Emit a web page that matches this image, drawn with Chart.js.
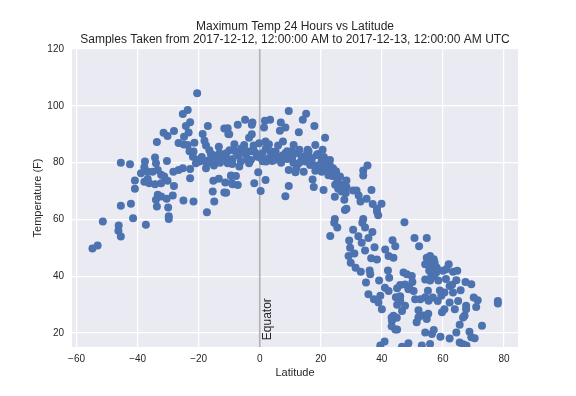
<!DOCTYPE html>
<html><head><meta charset="utf-8">
<script src="https://cdn.jsdelivr.net/npm/chart.js@4"></script>
<style>html,body{margin:0;padding:0;background:#fff}#wrap{width:576px;height:396px}</style>
</head><body><div id="wrap"><canvas id="c" width="576" height="396"></canvas></div>
<script>
const latitudes = [
-20.5,-23.6,-25.2,-22.8,-24.2,-17.0,-11.6,-10.3,-31.5,-30.2,-28.1,-23.3,-18.7,-33.7,-24.8,-26.6,-24.9,-23.6,-21.4,-18.1,
-17.6,-16.5,-13.4,-21.7,-21.9,-15.4,-13.2,-9.9,-19.8,-20.9,-18.1,-16.5,-14.3,-10.5,-17.6,-22.8,-25.2,-26.6,-28.3,-22.8,
-30.4,-34.3,-34.0,-37.6,-37.8,-38.9,-36.7,-35.1,-33.4,-32.3,-31.3,-45.5,-42.5,-40.9,-40.9,-37.8,-36.2,-34.3,-32.3,-30.2,
-28.1,-36.7,-33.4,-34.0,-32.3,-30.5,-33.7,-28.5,-30.0,-29.8,-29.8,-25.0,-21.7,-17.3,-14.9,-15.4,-11.6,-15.2,-13.4,-11.3,
-9.4,-9.1,-42.2,-45.5,-41.5,-37.3,-51.4,-46.2,-46.3,-45.5,-53.1,-54.8,
9.5,15.2,14.1,17.9,21.4,12.8,8.4,6.9,6.6,3.4,1.7,1.4,-2.4,-2.6,-4.8,-7.2,-10.5,-10.0,-3.5,-2.6,
-8.3,-5.1,-0.2,1.9,7.6,11.1,15.7,18.2,20.6,
-6.7,-4.5,-1.8,-0.8,0.9,3.0,5.2,6.3,8.4,10.6,12.2,13.8,15.5,17.1,18.7,20.3,21.4,23.0,14.9,16.5,
12.8,9.0,4.1,2.1,-2.9,-6.2,-8.9,-11.0,-10.5,-6.7,-3.5,9.5,11.7,14.4,18.2,20.3,22.5,23.8,26.3,17.3,
17.7,20.9,24.6,26.8,26.3,-0.5,1.9,-1.8,0.3,9.5,8.4,-7.8,-9.4,-8.9,-7.2,-11.0,24.4,25.4,23.1,27.9,
33.9,33.9,36.6,28.4,28.4,28.4,31.7,32.4,35.0,37.0,38.4,39.9,38.8,24.6,33.9,25.7,26.2,27.3,30.6,
35.3,25.3,24.7,28.2,27.7,33.0,38.4,47.4,30.6,33.6,34.5,36.9,29.3,32.3,35.6,29.6,33.4,34.5,37.6,29.1,
36.5,38.4,41.1,42.2,43.5,44.4,43.8,50.7,52.2,54.7,54.7,55.8,56.4,54.2,29.8,31.4,33.1,36.2,34.8,35.6,
37.4,38.9,39.5,40.0,39.1,42.4,42.2,45.0,46.0,47.6,48.7,50.4,47.1,48.2,49.8,44.6,46.0,47.6,50.9,52.6,
54.2,55.3,54.2,55.8,43.8,43.3,44.9,44.4,46.6,51.4,52.0,53.6,54.7,55.2,54.2,56.4,40.9,39.5,46.6,48.7,
53.1,55.8,43.2,43.2,45.0,
56.2,57.3,57.8,56.2,60.0,61.9,61.1,63.3,64.7,64.4,67.4,69.3,62.2,60.5,59.5,56.7,55.1,58.3,63.3,65.8,
65.0,62.2,63.9,60.5,59.7,67.6,67.6,70.1,71.4,70.9,78.0,78.0,67.1,66.6,65.5,72.8,57.0,59.2,62.2,64.4,
65.5,68.7,69.3,70.4,66.6,67.7,
-19,-17,-15,-13,-12,-8,-6,-4,-3,-1,1,2,4,5,7,9,10,11,13,14,
16,17,19,21,22,23,24,25,19,12,6,3,-2,-7,-9,21,22,56,57,58,55.5,57,58.5,
-14,-11,-5,0.5,3.5,7.5,10.5,13.5,16,-16,-20,-23,31,36,41,45,49,52,59,61,
63,50,46,42
];
const maxTemps = [
104.4,98.5,97.1,94.2,92.9,92.9,92.0,90.1,90.5,89.4,91.1,90.6,90.1,87.3,89.1,86.9,86.4,86.2,87.0,87.7,
86.0,84.4,85.6,83.9,82.1,82.7,83.3,84.4,80.4,79.8,80.6,80.9,81.5,79.8,78.0,77.8,78.0,77.4,76.8,74.5,
80.6,81.8,79.8,80.4,78.4,76.3,76.8,76.8,77.4,75.7,75.1,80.0,79.4,73.7,70.8,73.3,72.7,72.4,72.7,73.6,
71.8,74.2,68.7,66.9,68.1,67.3,64.6,68.4,64.2,61.1,60.2,66.7,66.3,62.5,66.3,69.8,69.5,73.6,74.3,73.0,
75.3,72.7,65.5,64.8,60.4,58.1,59.3,57.9,56.0,54.0,50.8,49.8,
98.2,97.2,95.1,92.9,88.8,90.7,92.4,94.1,91.2,95.1,94.7,92.4,94.1,93.3,95.1,93.3,92.1,90.0,88.8,90.0,
86.5,86.2,86.8,87.4,87.4,86.2,84.5,86.2,84.5,
83.9,82.7,83.9,82.1,83.3,81.5,83.9,82.1,83.3,81.5,83.3,82.1,83.3,81.5,82.7,80.9,79.8,80.9,80.4,79.2,
79.8,81.3,80.6,80.4,80.9,80.4,81.3,83.3,80.4,78.6,79.8,77.4,76.6,76.8,77.1,76.8,75.6,75.3,75.1,74.1,
71.4,70.4,68.0,69.8,71.5,76.6,73.9,72.7,70.0,71.8,68.2,75.3,75.5,72.4,72.1,69.4,58.8,57.2,54.2,63.3,
77.2,75.5,70.4,73.7,71.4,63.8,70.2,68.4,67.3,65.4,63.8,65.5,61.5,60.2,60.2,70.8,72.5,72.0,70.2,
79.0,74.5,72.2,69.3,66.9,66.3,62.8,59.0,56.4,58.8,57.2,55.6,52.6,54.1,53.5,50.0,51.8,49.1,50.2,47.1,
46.3,45.9,49.4,47.1,52.7,50.6,46.5,53.5,50.6,53.5,46.5,47.1,43.0,44.2,44.8,43.0,41.6,40.7,37.8,33.7,
31.9,30.8,33.1,28.4,38.5,39.5,34.8,35.8,36.9,37.1,35.4,34.8,41.3,40.7,40.1,32.6,31.4,29.6,31.9,31.9,
32.6,31.4,38.9,38.5,26.1,24.3,25.4,21.3,27.8,23.8,25.6,26.2,25.0,26.8,20.2,19.7,17.0,15.6,15.2,16.4,
15.6,16.2,25.5,22.4,21.3,
45.6,44.8,41.3,40.1,41.9,44.2,42.5,41.6,41.9,38.6,38.0,37.2,36.6,34.3,33.1,32.5,34.9,31.3,34.3,35.1,
31.3,30.8,28.4,28.4,27.3,29.6,28.4,32.5,31.6,29.2,31.3,30.4,26.1,25.5,22.9,22.6,21.1,18.7,18.1,20.2,
16.7,20.5,18.5,18.2,16.1,15.6,
82,80,79,80,82,84,85,81,84,83,80.5,85,83,81,80,84,82,80,84.5,81,
82.5,80,83,82,80.5,79,78,77,79,78,86,86.5,86,82.5,79.5,78.5,77,45,46,43,42,40,38.5,
81,81.5,84.5,81.5,84,82.5,84,80.5,84,83,81,84,48,42,36,30,36,28,35,39,
37,38,33,42
];
const xTicks = [-60, -40, -20, 0, 20, 40, 60, 80];
const yTicks = [20, 40, 60, 80, 100, 120];
const titleLines = ['Maximum Temp 24 Hours vs Latitude',
  'Samples Taken from 2017-12-12, 12:00:00 AM to 2017-12-13, 12:00:00 AM UTC'];
const xLabel = 'Latitude';
const yLabel = 'Temperature (F)';
const equatorLat = 0;
const equatorText = 'Equator';
const equatorTextAt = {lat: 3.6, temp: 17.5};

const FONT = "'Liberation Sans', Arial, sans-serif";
const INK = '#262626';
Chart.defaults.font.family = FONT;

const points = latitudes.map((x, i) => ({x: x, y: maxTemps[i]}));

const bgPlugin = {
  id: 'bg',
  beforeDraw(chart) {
    const {ctx, chartArea: a} = chart;
    ctx.save();
    ctx.fillStyle = '#ffffff';
    ctx.fillRect(0, 0, chart.width, chart.height);
    ctx.fillStyle = '#EAEAF2';
    ctx.fillRect(a.left, a.top, a.right - a.left, a.bottom - a.top);
    ctx.restore();
  },
  beforeDatasetsDraw(chart) {
    const {ctx, chartArea: a, scales} = chart;
    const px = scales.x.getPixelForValue(equatorLat);
    ctx.save();
    ctx.strokeStyle = 'rgba(128,128,128,0.6)';
    ctx.lineWidth = 1.6;
    ctx.beginPath();
    ctx.moveTo(px, a.top);
    ctx.lineTo(px, a.bottom);
    ctx.stroke();
    ctx.restore();
  },
  afterDatasetsDraw(chart) {
    const {ctx, scales} = chart;
    const px = scales.x.getPixelForValue(equatorTextAt.lat);
    const py = scales.y.getPixelForValue(equatorTextAt.temp);
    ctx.save();
    ctx.translate(px, py);
    ctx.rotate(-Math.PI / 2);
    ctx.font = '12px ' + FONT;
    ctx.fillStyle = INK;
    ctx.textAlign = 'left';
    ctx.textBaseline = 'alphabetic';
    ctx.fillText(equatorText, 0, 0);
    ctx.restore();
  }
};

new Chart(document.getElementById('c'), {
  type: 'scatter',
  data: {
    datasets: [{
      label: 'Max Temp',
      data: points,
      backgroundColor: '#4C72B0',
      borderColor: '#4C72B0',
      borderWidth: 0,
      pointRadius: 4,
      pointHoverRadius: 4,
      clip: 0
    }]
  },
  options: {
    responsive: false,
    devicePixelRatio: 1,
    animation: false,
    events: [],
    layout: {padding: {left: 14, right: 0, top: 0, bottom: 0}},
    plugins: {
      legend: {display: false},
      tooltip: {enabled: false},
      title: {
        display: true,
        text: titleLines,
        color: INK,
        font: {size: 12, weight: 'normal', lineHeight: 1.15},
        padding: {top: 19.3, bottom: 2.1}
      }
    },
    scales: {
      x: {
        type: 'linear',
        min: -61.5,
        max: 84.6,
        afterBuildTicks: s => { s.ticks = xTicks.map(v => ({value: v})); },
        afterFit: s => { s.height = 49; },
        grid: {color: '#ffffff', lineWidth: 1.2, drawTicks: false},
        border: {display: false},
        ticks: {
          color: INK, padding: 6, font: {size: 10},
          callback: v => String(v).replace('-', '\u2212')
        },
        title: {display: true, text: xLabel, color: INK, font: {size: 11}, padding: {top: 0, bottom: 16.5}}
      },
      y: {
        type: 'linear',
        position: 'left',
        min: 15.1,
        max: 120,
        afterBuildTicks: s => { s.ticks = yTicks.map(v => ({value: v})); },
        afterFit: s => { s.width = 58; },
        grid: {color: '#ffffff', lineWidth: 1.2, drawTicks: false},
        border: {display: false},
        ticks: {color: INK, padding: 8, font: {size: 10}},
        title: {display: true, text: yLabel, color: INK, font: {size: 11}, padding: {top: 17, bottom: 0}}
      },
      yRight: {
        type: 'linear',
        position: 'right',
        display: true,
        afterFit: s => { s.width = 58; },
        grid: {display: false, drawTicks: false},
        border: {display: false},
        ticks: {display: false},
        title: {display: false}
      }
    }
  },
  plugins: [bgPlugin]
});
</script>
</body></html>
